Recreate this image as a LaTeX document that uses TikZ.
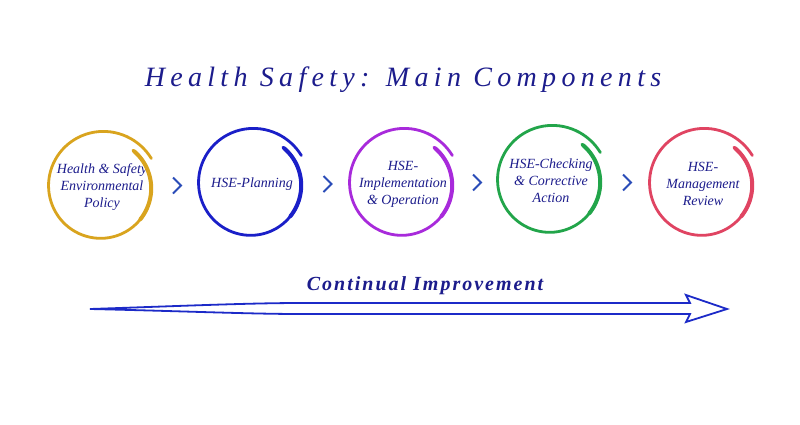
\documentclass[tikz,border=0pt]{standalone}
\usepackage{fontspec}
\setmainfont{Liberation Serif}
\usetikzlibrary{calc}
\definecolor{txt}{HTML}{1C1C8C}
\definecolor{cgold}{HTML}{D9A41E}
\definecolor{cblue}{HTML}{1A1FC8}
\definecolor{cpurp}{HTML}{A82ADB}
\definecolor{cgreen}{HTML}{22A54A}
\definecolor{cpink}{HTML}{E04462}
\definecolor{chev}{HTML}{2A4CB8}
\definecolor{arr}{HTML}{1C2AC8}
\begin{document}
\begin{tikzpicture}[x=1pt,y=-1pt,
  ring/.style={circle,minimum size=106pt,inner sep=0pt,text=txt,
    align=center,font=\fontsize{14}{17}\selectfont\itshape},
  chevmark/.style={draw=chev,line width=2pt},
]
\useasboundingbox[fill=white] (0,0) rectangle (800,424);
\node[font=\fontsize{28}{30}\selectfont\itshape\addfontfeature{LetterSpace=19},text=txt] (title) at (403,80) {Health Safety: Main Components};

\node[ring] (c1) at (102,187) {Health \& Safety\\Environmental\\Policy};
\node[ring] (c2) at (252,184) {HSE-Planning};
\node[ring] (c3) at (403,184) {HSE-\\Implementation\\\& Operation};
\node[ring] (c4) at (551,181) {HSE-Checking\\\& Corrective\\Action};
\node[ring] (c5) at (703,184) {HSE-\\Management\\Review};

% hand-drawn spiral rings
\foreach \c/\col in {c1/cgold,c2/cblue,c3/cpurp,c4/cgreen,c5/cpink}{
  \begin{scope}[shift={(\c.center)}]
  \draw[\col,line width=2.8pt,line cap=round] plot[domain=50:-330,samples=90,smooth]
    ({(48+9*(50-\x)/380)*cos(\x)},{-(48+9*(50-\x)/380)*sin(\x)});
  \draw[\col,line width=4pt,line cap=round] plot[domain=48:-40,samples=30,smooth]
    ({(48+9*(50-\x)/380)*cos(\x)},{-(48+9*(50-\x)/380)*sin(\x)});
  \end{scope}
}

% chevrons
\foreach \a/\b [count=\i] in {c1/c2,c2/c3,c3/c4,c4/c5}{
  \coordinate (m\i) at ($(\a.east)!0.5!(\b.west)$);
  \draw[chevmark] ($(m\i)+(-4,-8)$) -- ($(m\i)+(4,0)$) -- ($(m\i)+(-4,8)$);
}

% continual improvement arrow
\node[font=\fontsize{20}{22}\selectfont\bfseries\itshape\addfontfeature{LetterSpace=10},text=txt] (ci) at (425,286) {Continual Improvement};
\coordinate (tailpt) at (90,309);
\coordinate (tip) at (727,309);
\draw[arr,line width=1.8pt,line join=miter]
  (tailpt) .. controls (180,306) and (250,303) .. (300,303) -- (690,303)
  -- (686,295) -- (tip) -- (686,322) -- (690,314) -- (300,314)
  .. controls (250,314) and (180,311) .. (tailpt);
\end{tikzpicture}
\end{document}
